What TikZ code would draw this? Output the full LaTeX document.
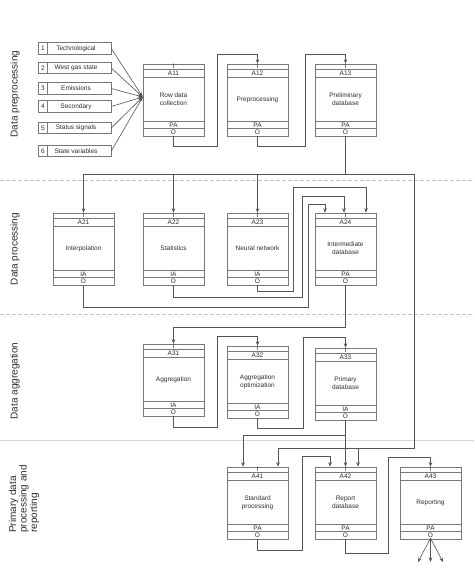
\documentclass[tikz,border=0pt]{standalone}
\usepackage{fontspec}
\setmainfont{Liberation Sans}
\usetikzlibrary{arrows.meta}
\definecolor{lc}{RGB}{85,85,85}
\definecolor{bc}{RGB}{120,120,120}
\definecolor{tc}{RGB}{45,45,45}
\definecolor{sepc}{RGB}{195,195,195}
\definecolor{sepd}{RGB}{215,215,215}
\tikzset{
  pbox/.style={draw=bc, line width=0.6pt, minimum width=61pt, minimum height=72pt, inner sep=0pt, fill=white},
  rowline/.style={draw=bc, line width=0.5pt},
  rowtxt/.style={font=\fontsize{6.5}{7}\selectfont, text=tc, inner sep=0pt},
  labtxt/.style={font=\fontsize{6.5}{8}\selectfont, text=tc, align=center, inner sep=0pt},
  conn/.style={draw=lc, line width=0.6pt},
  arr/.style={-{Stealth[length=4.5pt,width=3.5pt]}},
  sepline/.style={draw=sepc, line width=0.8pt, dash pattern=on 4pt off 2pt},
  seclab/.style={font=\fontsize{10}{10.5}\selectfont, text=tc, rotate=90, inner sep=0pt, align=left},
  inbox/.style={draw=bc, line width=0.6pt, minimum width=73pt, minimum height=11.5pt, inner sep=0pt, fill=white},
  intxt/.style={font=\fontsize{6.5}{7}\selectfont, text=tc, inner sep=0pt},
}
\newcommand{\procbox}[6]{%
  \node[pbox] (#1) at (#2+30.5,#3+36) {};
  \draw[rowline] ([yshift=-6pt]#1.north west) -- ([yshift=-6pt]#1.north east);
  \draw[rowline] ([yshift=-14pt]#1.north west) -- ([yshift=-14pt]#1.north east);
  \draw[rowline] ([yshift=15pt]#1.south west) -- ([yshift=15pt]#1.south east);
  \draw[rowline] ([yshift=8pt]#1.south west) -- ([yshift=8pt]#1.south east);
  \node[rowtxt] (#1-i) at ([yshift=-3pt]#1.north) {I};
  \node[rowtxt] (#1-id) at ([yshift=-10pt]#1.north) {#4};
  \node[labtxt] (#1-lab) at ([yshift=0.5pt]#1.center) {#5};
  \node[rowtxt] (#1-pa) at ([yshift=11.5pt]#1.south) {#6};
  \node[rowtxt] (#1-o) at ([yshift=4pt]#1.south) {O};
}
\newcommand{\inputbox}[4]{%
  \node[inbox] (#1) at (74.5,#2) {};
  \draw[rowline] ([xshift=10pt]#1.north west) -- ([xshift=10pt]#1.south west);
  \node[intxt] (#1-n) at (43,#2) {#3};
  \node[intxt] (#1-t) at (76,#2) {#4};
}
\begin{document}
\begin{tikzpicture}[x=1pt,y=-1pt]
\fill[white] (0,0) rectangle (474,569);
\useasboundingbox (0,0) rectangle (474,569);

% separators
\draw[sepline] (0,180) -- (474,180);
\draw[sepline] (0,314) -- (474,314);
\draw[draw=sepd, line width=0.8pt] (0,440) -- (474,440);

% section labels
\node[seclab] (s1) at (15,94) {Data preprocessing};
\node[seclab] (s2) at (15,249) {Data processing};
\node[seclab] (s3) at (15,381) {Data aggregation};
\node[seclab, anchor=west] (s4) at (24,533) {Primary data\\processing and\\reporting};

% boxes
\procbox{a11}{143}{64}{A11}{Row data\\collection}{PA}
\procbox{a12}{227}{64}{A12}{Preprocessing}{PA}
\procbox{a13}{315}{64}{A13}{Preliminary\\database}{PA}
\procbox{a21}{53}{213}{A21}{Interpolation}{IA}
\procbox{a22}{143}{213}{A22}{Statistics}{IA}
\procbox{a23}{227}{213}{A23}{Neural network}{IA}
\procbox{a24}{315}{213}{A24}{Intermediate\\database}{PA}
\procbox{a31}{143}{344}{A31}{Aggregation}{IA}
\procbox{a32}{227}{346}{A32}{Aggregation\\optimization}{IA}
\procbox{a33}{315}{348}{A33}{Primary\\database}{IA}
\procbox{a41}{227}{467}{A41}{Standard\\processing}{PA}
\procbox{a42}{315}{467}{A42}{Report\\database}{PA}
\procbox{a43}{400}{467}{A43}{Reporting}{PA}

% inputs
\inputbox{in1}{48.5}{1}{Technological}
\inputbox{in2}{68}{2}{West gas state}
\inputbox{in3}{88.5}{3}{Emissions}
\inputbox{in4}{106.5}{4}{Secondary}
\inputbox{in5}{128}{5}{Status signals}
\inputbox{in6}{151}{6}{State variables}
\coordinate (a11in) at ([yshift=3pt]a11.west);
\foreach \k in {1,...,6} {\draw[conn,arr] (in\k.east) -- (a11in);}

% section 1
\draw[conn,arr] (a11.south) |- (217,146) |- ([yshift=9pt]a12.north) -- (a12.north);
\draw[conn,arr] (a12.south) |- (305,146) |- ([yshift=9pt]a13.north) -- (a13.north);
\coordinate (bus1) at (83.5,174);
\coordinate (bus2) at (414,174);
\coordinate (rb) at (414,448);
\draw[conn] (a13.south) -- (a13.south |- bus1);
\draw[conn] (bus1) -- (bus2);
\draw[conn,arr] (bus1) -- (a21.north);
\draw[conn,arr] (a22.north |- bus1) -- (a22.north);
\draw[conn,arr] (a23.north |- bus1) -- (a23.north);
\draw[conn,arr] (bus2) |- ([xshift=20.5pt]a41.north |- rb) -- ([xshift=20.5pt]a41.north);
\draw[conn,arr] ([xshift=12.5pt]a42.north |- rb) -- ([xshift=12.5pt]a42.north);

% section 2
\draw[conn,arr] (a21.south) |- (308,307) |- ([xshift=-20.5pt,yshift=8pt]a24.north) -- ([xshift=-20.5pt]a24.north);
\draw[conn,arr] (a22.south) |- (302,297) |- ([xshift=-1.5pt,yshift=16pt]a24.north) -- ([xshift=-1.5pt]a24.north);
\draw[conn,arr] (a23.south) |- (293,291) |- ([xshift=20.5pt,yshift=25pt]a24.north) -- ([xshift=20.5pt]a24.north);
\draw[conn,arr] (a24.south) |- ([yshift=16pt]a31.north) -- (a31.north);

% section 3
\draw[conn,arr] (a31.south) |- (217,427) |- ([yshift=9pt]a32.north) -- (a32.north);
\draw[conn,arr] (a32.south) |- (303,428) |- ([yshift=10pt]a33.north) -- (a33.north);
\coordinate (a33j) at (345.5,435);
\draw[conn,arr] (a33.south) |- ([xshift=-14.5pt]a41.north |- a33j) -- ([xshift=-14.5pt]a41.north);
\draw[conn,arr] (a33.south) -- (a42.north);

% section 4
\draw[conn,arr] (a41.south) |- (302,550) |- ([xshift=-15.5pt,yshift=10pt]a42.north) -- ([xshift=-15.5pt]a42.north);
\draw[conn,arr] (a42.south) |- (388,553) |- ([yshift=9pt]a43.north) -- (a43.north);
\coordinate (o1) at (418,562);
\coordinate (o2) at (430.5,562);
\coordinate (o3) at (443,562);
\draw[conn,arr] ([yshift=1pt]a43.south) -- (o1);
\draw[conn,arr] ([yshift=1pt]a43.south) -- (o2);
\draw[conn,arr] ([yshift=1pt]a43.south) -- (o3);
\end{tikzpicture}
\end{document}
